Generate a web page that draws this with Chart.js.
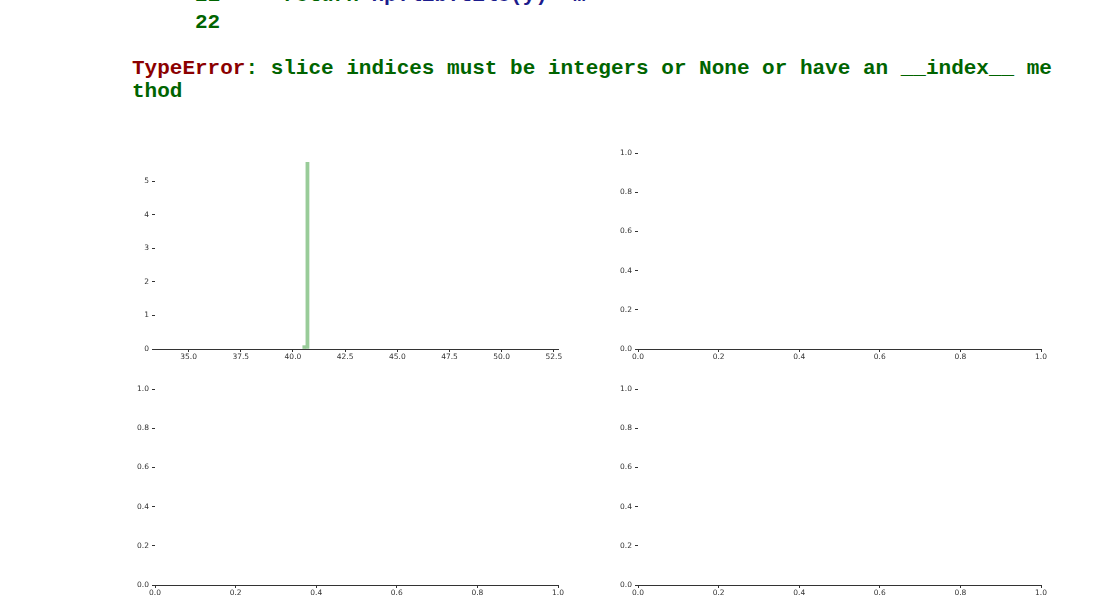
<!DOCTYPE html>
<html>
<head>
<meta charset="utf-8">
<script src="https://cdn.jsdelivr.net/npm/chart.js@4.4.1/dist/chart.umd.min.js"></script>
<style>
  html, body { margin: 0; padding: 0; background: #ffffff; width: 1102px; height: 616px; overflow: hidden; position: relative; }
  pre.tb { position: absolute; left: 132px; top: -12px; margin: 0; font-family: "Liberation Mono", "DejaVu Sans Mono", monospace; font-weight: bold; font-size: 21px; line-height: 23px; color: #006400; white-space: pre; }
  .g { color: #006400; }
  .b { color: #1c1c8c; }
  .r { color: #8b0000; }
  .up { position: relative; top: -4px; }
  .box { position: absolute; }
</style>
</head>
<body>
<pre class="tb"><span class="up"><span class="g">     21     return </span><span class="b">np.lib.tile(y)</span><span class="b">  m</span></span>
<span class="g">     22</span>

<span class="r">TypeError</span><span class="g">: slice indices must be integers or None or have an __index__ me</span>
<span class="g">thod</span></pre>

<div class="box" id="b0"><canvas id="c0"></canvas></div>
<div class="box" id="b1"><canvas id="c1"></canvas></div>
<div class="box" id="b2"><canvas id="c2"></canvas></div>
<div class="box" id="b3"><canvas id="c3"></canvas></div>

<script>
// ---- data ----
const histBinCenters = [40.545, 40.695];
const histDensity = [0.1, 5.56];
const histXTicks = [35.0, 37.5, 40.0, 42.5, 45.0, 47.5, 50.0, 52.5];
const histYTicks = [0, 1, 2, 3, 4, 5];
const histXRange = [33.39, 52.70];
const histYRange = [0, 5.84];
const unitTicks = [0.0, 0.2, 0.4, 0.6, 0.8, 1.0];
const unitRange = [0, 1];

// ---- layout (axes areas) ----
const areas = [
  { left: 155, top: 153 },
  { left: 638, top: 153 },
  { left: 155, top: 389 },
  { left: 638, top: 389 }
];
const AW = 403, AH = 196, YW = 40, XH = 22, PT = 10, PR = 15;

const tickFont = { family: "DejaVu Sans", size: 7.5 };
const tickColor = '#333333';

function makeScales(xTicks, xRange, xFmt, yTicks, yRange, yFmt) {
  return {
    x: {
      type: 'linear', min: xRange[0], max: xRange[1], offset: false,
      afterBuildTicks: s => { s.ticks = xTicks.map(v => ({ value: v })); },
      afterFit: s => { s.height = XH; },
      ticks: { font: tickFont, color: tickColor, padding: 1, maxRotation: 0, autoSkip: false, callback: v => xFmt(v) },
      grid: { display: true, offset: false, drawOnChartArea: false, drawTicks: true, tickLength: 3, tickColor: tickColor, tickWidth: 1 },
      border: { display: true, color: '#333333', width: 1 }
    },
    y: {
      type: 'linear', min: yRange[0], max: yRange[1],
      afterBuildTicks: s => { s.ticks = yTicks.map(v => ({ value: v })); },
      afterFit: s => { s.width = YW; },
      ticks: { font: tickFont, color: tickColor, padding: 3, autoSkip: false, callback: v => yFmt(v) },
      grid: { display: true, drawOnChartArea: false, drawTicks: true, tickLength: 3, tickColor: tickColor, tickWidth: 1 },
      border: { display: false }
    }
  };
}

const commonOpts = {
  responsive: false, animation: false, devicePixelRatio: 1,
  layout: { padding: { left: 0, top: PT, right: PR, bottom: 0 } },
  plugins: { legend: { display: false }, tooltip: { enabled: false } }
};

const f1 = v => Number(v).toFixed(1);
const f0 = v => String(Math.round(v));

areas.forEach((a, i) => {
  const box = document.getElementById('b' + i);
  box.style.left = (a.left - YW) + 'px';
  box.style.top = (a.top - PT) + 'px';
  const cv = document.getElementById('c' + i);
  cv.width = AW + YW + PR;
  cv.height = AH + PT + XH;
  cv.style.width = cv.width + 'px';
  cv.style.height = cv.height + 'px';
});

// top-left histogram
new Chart(document.getElementById('c0'), {
  type: 'bar',
  data: {
    datasets: [{
      data: histBinCenters.map((x, i) => ({ x: x, y: histDensity[i] })),
      backgroundColor: '#99cc99',
      borderWidth: 0,
      barPercentage: 1.0,
      categoryPercentage: 1.0
    }]
  },
  options: Object.assign({}, commonOpts, {
    scales: makeScales(histXTicks, histXRange, f1, histYTicks, histYRange, f0)
  })
});

// empty subplots
[1, 2, 3].forEach(i => {
  new Chart(document.getElementById('c' + i), {
    type: 'scatter',
    data: { datasets: [{ data: [] }] },
    options: Object.assign({}, commonOpts, {
      scales: makeScales(unitTicks, unitRange, f1, unitTicks, unitRange, f1)
    })
  });
});
</script>
</body>
</html>
